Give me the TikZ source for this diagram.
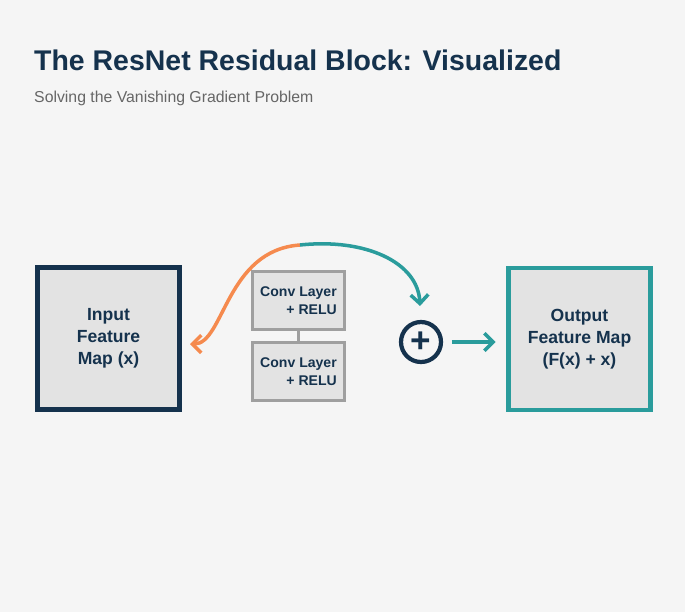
\documentclass[tikz,border=0pt]{standalone}
\usepackage{fontspec}
\setmainfont{Liberation Sans}
\usetikzlibrary{arrows.meta}
\definecolor{navy}{HTML}{15324D}
\definecolor{teal2}{HTML}{2A9C9C}
\definecolor{orng}{HTML}{F58A4E}
\definecolor{boxfill}{HTML}{E3E3E3}
\definecolor{bg}{HTML}{F5F5F5}
\begin{document}
\begin{tikzpicture}[x=0.02cm, y=-0.02cm,
  fmap/.style={draw, line width=2.6pt, fill=boxfill, minimum width=2.84cm, minimum height=2.84cm, align=center, font=\bfseries\fontsize{10}{12.5}\selectfont, text=navy},
  conv/.style={draw=gray!75, line width=1.2pt, fill=boxfill, minimum width=1.84cm, minimum height=1.16cm, align=right, font=\bfseries\fontsize{8}{10.5}\selectfont, text=navy},
  arr/.style={line width=2pt, -{Straight Barb[length=5pt, width=10pt]}}]
	\fill[bg] (0,0) rectangle (685,612);
	\useasboundingbox (0,0) rectangle (685,612);
	\node[anchor=west, font=\bfseries\fontsize{16.2}{19}\selectfont, text=navy] (title) at (28,60) {The ResNet Residual Block: Visualized};
	\node[anchor=west, font=\fontsize{9}{11}\selectfont, text=gray!80!black] (sub) at (28,98) {Solving the Vanishing Gradient Problem};

	\node[fmap, draw=navy] (X) at (108.5,338.5) {Input\\Feature\\Map (x)};
	\node[fmap, draw=teal2] (Y) at (579.5,339) {Output\\Feature Map\\(F(x) + x)};

	\node[conv] (C1) at (298.5,300.5) {Conv Layer\\+ RELU};
	\node[conv] (C2) at (298.5,371.5) {Conv Layer\\+ RELU};
	\draw[gray!75, line width=1.2pt] (C1) -- (C2);

	\node[circle, draw=navy, line width=2.4pt, fill=bg, minimum size=0.8cm, inner sep=0pt, font=\bfseries\fontsize{20}{20}\selectfont, text=navy] (P) at (421,342) {+};
	\draw[arr, teal2, shorten <=5pt, shorten >=6pt] (P.east) -- (P.east -| Y.west);

	\coordinate (top) at (300,245);
	\coordinate (tip) at (190,344);
	\coordinate (drop) at (420,306);
	\draw[arr, orng] (top) .. controls (226,250) and (224,344) .. (tip);
	\draw[arr, teal2] (top) .. controls (365,238) and (418,262) .. (drop);
\end{tikzpicture}
\end{document}
